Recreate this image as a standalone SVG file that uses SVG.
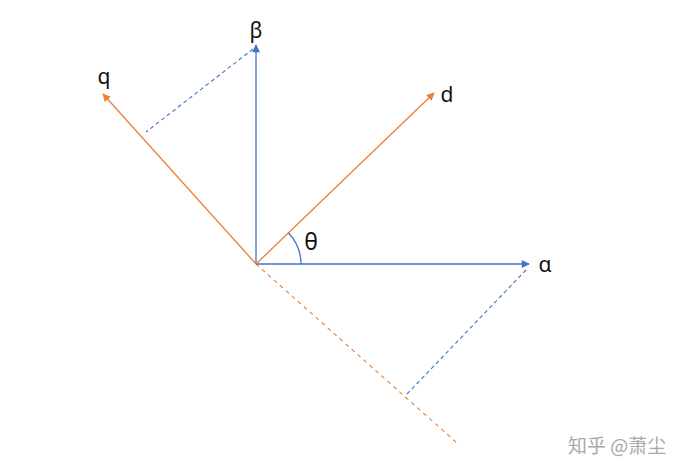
<svg xmlns="http://www.w3.org/2000/svg" width="697" height="475" viewBox="0 0 697 475">
<style>
.b{stroke:#4472C4;stroke-width:1.3;fill:none}
.o{stroke:#ED7D31;stroke-width:1.3;fill:none}
.bd{stroke:#4472C4;stroke-width:1.1;stroke-dasharray:4 3;fill:none}
.od{stroke:#ED7D31;stroke-width:1.1;stroke-dasharray:4 4;fill:none}
.t{font-family:"Noto Sans","DejaVu Sans",sans-serif;font-size:21px;fill:#111}
.w{font-family:"Noto Sans CJK SC",sans-serif;font-size:19px;fill:#a8a8a8}
</style>
<defs>
<marker id="ab" viewBox="0 0 10 10" refX="9" refY="5" markerWidth="9" markerHeight="8" markerUnits="userSpaceOnUse" orient="auto"><path d="M0,0 L10,5 L0,10 z" fill="#4472C4"/></marker>
<marker id="ao" viewBox="0 0 10 10" refX="9" refY="5" markerWidth="9" markerHeight="8" markerUnits="userSpaceOnUse" orient="auto"><path d="M0,0 L10,5 L0,10 z" fill="#ED7D31"/></marker>
</defs>
<rect width="697" height="475" fill="#fff"/>
<g id="connectors">
<line class="bd" x1="253" y1="49" x2="146" y2="132"/>
<line class="bd" x1="526" y1="270" x2="407" y2="394"/>
<line class="od" x1="256" y1="264" x2="457" y2="443"/>
<line class="b" x1="256" y1="264" x2="256" y2="45" marker-end="url(#ab)"/>
<line class="b" x1="256" y1="264" x2="529" y2="264" marker-end="url(#ab)"/>
<line class="o" x1="256" y1="264" x2="434" y2="93" marker-end="url(#ao)"/>
<line class="o" x1="256" y1="264" x2="103" y2="94" marker-end="url(#ao)"/>
<path class="b" d="M301,264 A45,45 0 0 0 288.5,233"/>
</g>
<g id="beta"><text class="t" x="256" y="38" text-anchor="middle">β</text></g>
<g id="q"><text class="t" x="104" y="84" text-anchor="middle">q</text></g>
<g id="d"><text class="t" x="447" y="102" text-anchor="middle">d</text></g>
<g id="theta"><text class="t" x="311" y="250" text-anchor="middle" style="font-size:23px">θ</text></g>
<g id="alpha"><text class="t" x="545" y="272" text-anchor="middle">α</text></g>
<g id="watermark"><text class="w" x="568" y="453">知乎 @萧尘</text></g>
</svg>
